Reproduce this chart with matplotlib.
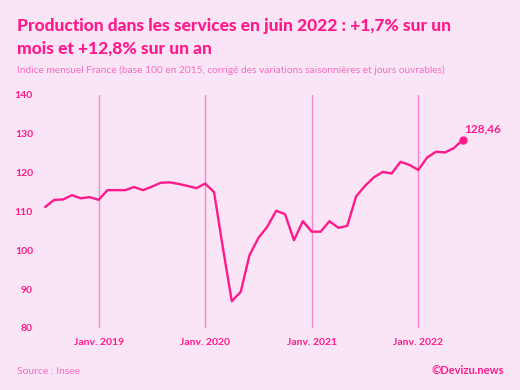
import matplotlib
matplotlib.use("Agg")
import matplotlib.pyplot as plt

# indice mensuel, juillet 2018 -> juin 2022
months = [
    "2018-07", "2018-08", "2018-09", "2018-10", "2018-11", "2018-12",
    "2019-01", "2019-02", "2019-03", "2019-04", "2019-05", "2019-06",
    "2019-07", "2019-08", "2019-09", "2019-10", "2019-11", "2019-12",
    "2020-01", "2020-02", "2020-03", "2020-04", "2020-05", "2020-06",
    "2020-07", "2020-08", "2020-09", "2020-10", "2020-11", "2020-12",
    "2021-01", "2021-02", "2021-03", "2021-04", "2021-05", "2021-06",
    "2021-07", "2021-08", "2021-09", "2021-10", "2021-11", "2021-12",
    "2022-01", "2022-02", "2022-03", "2022-04", "2022-05", "2022-06",
]
values = [
    111.2, 113.0, 113.1, 114.2, 113.4, 113.7,
    113.0, 115.5, 115.5, 115.5, 116.3, 115.5,
    116.4, 117.4, 117.5, 117.1, 116.6, 116.0,
    117.2, 115.0, 100.6, 86.9, 89.3, 98.8,
    103.2, 106.1, 110.2, 109.3, 102.6, 107.5,
    104.8, 104.8, 107.5, 105.8, 106.3, 113.9,
    116.6, 118.8, 120.2, 119.8, 122.8, 122.0,
    120.7, 123.9, 125.4, 125.2, 126.3, 128.46,
]
tick_labels = ["Janv. 2019", "Janv. 2020", "Janv. 2021", "Janv. 2022"]
tick_months = ["2019-01", "2020-01", "2021-01", "2022-01"]
y_ticks = [80, 90, 100, 110, 120, 130, 140]

bg = "#FAE5F7"
pink = "#FF1A8C"
light = "#F66CC2"
grid = "#F785C8"

plt.rcParams["font.family"] = ["Lato", "DejaVu Sans"]

W, H = 520, 390
fig = plt.figure(figsize=(W / 100, H / 100), dpi=100)
fig.patch.set_facecolor(bg)

left, right, top, bottom = 40, 480, 95, 328
ax = fig.add_axes([left / W, 1 - bottom / H, (right - left) / W, (bottom - top) / H])
ax.set_facecolor(bg)

x = list(range(len(values)))
ax.plot(x, values, color=pink, lw=1.7, solid_joinstyle="round", zorder=3)
ax.plot(x[-1], values[-1], "o", color=pink, ms=5, zorder=4)
ax.annotate(f"{values[-1]:.2f}".replace(".", ","), (x[-1], values[-1]),
            xytext=(1, 4), textcoords="offset points",
            color=pink, fontsize=8.5, fontweight="bold", ha="left", va="bottom")

ax.set_xlim(-0.6, 48.95)
ax.set_ylim(80, 140)
ax.set_xticks([months.index(m) for m in tick_months])
ax.set_xticklabels(tick_labels)
ax.set_yticks(y_ticks)
ax.grid(axis="x", color=grid, lw=1)
ax.set_axisbelow(True)
for s in ax.spines.values():
    s.set_visible(False)
ax.tick_params(length=0, colors=pink, labelsize=7.5)
ax.tick_params(axis="y", pad=5)
ax.tick_params(axis="x", pad=7)
for lab in ax.get_xticklabels() + ax.get_yticklabels():
    lab.set_fontweight("bold")

fig.text(17 / W, 1 - 18 / H,
         "Production dans les services en juin 2022 : +1,7% sur un\nmois et +12,8% sur un an",
         color=pink, fontsize=12.5, fontweight="black", ha="left", va="top", linespacing=1.5)
fig.text(17 / W, 1 - 70 / H,
         "Indice mensuel France (base 100 en 2015, corrigé des variations saisonnières et jours ouvrables)",
         color=light, fontsize=7.3, ha="left", va="center")
fig.text(17 / W, 1 - 371 / H, "Source : Insee", color=light, fontsize=7.5, ha="left", va="center")
fig.text(504 / W, 1 - 370 / H, "©Devizu.news", color=pink, fontsize=8, fontweight="bold",
         ha="right", va="center")

fig.savefig("out.png", dpi=100, facecolor=bg)
